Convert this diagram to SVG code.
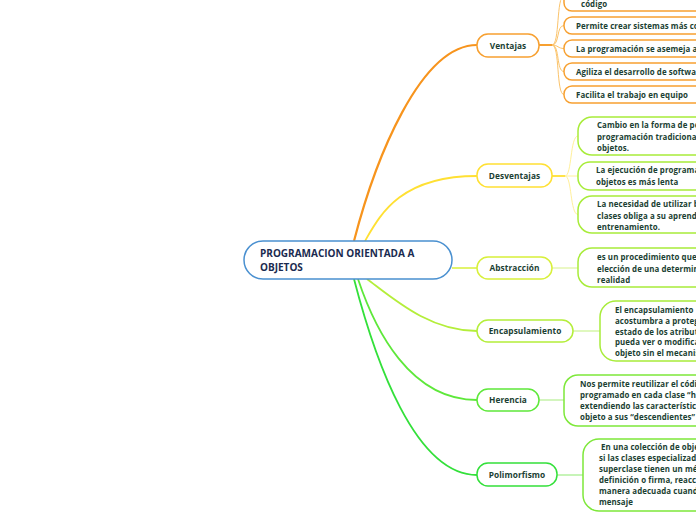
<svg xmlns="http://www.w3.org/2000/svg" width="696" height="520" viewBox="0 0 696 520">
<style>
text{font-family:"Open Sans","Noto Sans","Liberation Sans",sans-serif;font-weight:700;fill:#1b3f33;font-size:7.9px;letter-spacing:0.08px}
.t{font-size:8.3px}
.main{font-size:10px;font-weight:700;fill:#1a2b50;letter-spacing:0}
.n{fill:#fff;stroke-width:1.5}
.c{fill:none}
</style>
<rect width="696" height="520" fill="#fff"/>
<g id="connectors">
<path class="c" d="M354,241 C375,160 420,45 477,45" stroke="#f7941d" stroke-width="2.2"/>
<path class="c" d="M365,241 C380,215 400,176 477,176" stroke="#ffe033" stroke-width="1.8"/>
<path class="c" d="M452,268 L477,268" stroke="#d8f03a" stroke-width="1.5"/>
<path class="c" d="M367,279 C395,300 430,331 477,331" stroke="#b4ee3a" stroke-width="1.8"/>
<path class="c" d="M358,279 C375,330 410,400 477,400" stroke="#5ee83a" stroke-width="1.8"/>
<path class="c" d="M354,279 C375,360 415,475 477,475" stroke="#33e03a" stroke-width="1.8"/>
<g stroke="#fbc36a" stroke-width="1" fill="none">
<path d="M539,45 L552,45" stroke="#f7a030" stroke-width="2"/>
<path d="M552,45 C560,45 556,-4 564,-4"/>
<path d="M552,45 C560,45 556,25.5 564,25.5"/>
<path d="M552,45 C558,45 558,48.5 564,48.5"/>
<path d="M552,45 C560,45 556,71.5 564,71.5"/>
<path d="M552,45 C560,45 556,94.5 564,94.5"/>
</g>
<g stroke="#fff09a" stroke-width="1" fill="none">
<path d="M552,176 L565,176" stroke="#ffe033" stroke-width="1.8"/>
<path d="M565,176 C572,176 570,136 578,136"/>
<path d="M565,176 L578,176"/>
<path d="M565,176 C572,176 570,214.5 578,214.5"/>
</g>
<path class="c" d="M552,268 L578,268" stroke="#e4f6b0" stroke-width="1.5"/>
<path class="c" d="M573,331 L600,331" stroke="#d4f6a8" stroke-width="1.5"/>
<path class="c" d="M539,400 L564,400" stroke="#c4f2a8" stroke-width="1.5"/>
<path class="c" d="M557,475 L583,475" stroke="#b4f0a0" stroke-width="1.5"/>
</g>
<g id="root">
<rect class="n" x="244" y="241" width="208" height="38" rx="19" stroke="#4a90d0"/>
<text class="main" x="260" y="257">PROGRAMACION ORIENTADA A</text>
<text class="main" x="260" y="271">OBJETOS</text>
</g>
<g id="ventajas">
<rect class="n" x="477" y="34" width="62" height="23" rx="11" stroke="#f7a030"/>
<text class="t" x="508" y="48.5" text-anchor="middle">Ventajas</text>
</g>
<g id="v1"><rect class="n" x="564" y="-20" width="160" height="31" rx="8" stroke="#f7a030"/>
<text x="581" y="6.5">código</text></g>
<g id="v2"><rect class="n" x="564" y="17" width="160" height="17" rx="8" stroke="#f7a030"/>
<text x="576" y="28.5">Permite crear sistemas más co</text></g>
<g id="v3"><rect class="n" x="564" y="40" width="160" height="17" rx="8" stroke="#f7a030"/>
<text x="576" y="51.5">La programación se asemeja a</text></g>
<g id="v4"><rect class="n" x="564" y="63" width="160" height="17" rx="8" stroke="#f7a030"/>
<text x="576" y="74.5">Agiliza el desarrollo de softwa</text></g>
<g id="v5"><rect class="n" x="564" y="86" width="160" height="17" rx="8" stroke="#f7a030"/>
<text x="576" y="97.5">Facilita el trabajo en equipo</text></g>
<g id="desventajas">
<rect class="n" x="477" y="164" width="75" height="23" rx="11" stroke="#ffe033"/>
<text class="t" x="514.5" y="178.5" text-anchor="middle">Desventajas</text>
</g>
<g id="d1"><rect class="n" x="578" y="117" width="160" height="38" rx="14" stroke="#a8ec3a"/>
<text x="597" y="128">Cambio en la forma de pe</text><text x="597" y="139.5">programación tradiciona</text><text x="597" y="151">objetos.</text></g>
<g id="d2"><rect class="n" x="578" y="162" width="160" height="28" rx="12" stroke="#a8ec3a"/>
<text x="596" y="173">La ejecución de programa</text><text x="596" y="184.5">objetos es más lenta</text></g>
<g id="d3"><rect class="n" x="578" y="196" width="160" height="37" rx="14" stroke="#a8ec3a"/>
<text x="597" y="207">La necesidad de utilizar b</text><text x="597" y="218.5">clases obliga a su aprend</text><text x="597" y="230">entrenamiento.</text></g>
<g id="abstraccion">
<rect class="n" x="477" y="257" width="75" height="22" rx="11" stroke="#d8f03a"/>
<text class="t" x="514.5" y="271" text-anchor="middle">Abstracción</text>
</g>
<g id="a1"><rect class="n" x="578" y="248" width="160" height="39" rx="14" stroke="#a8ec3a"/>
<text x="597" y="260">es un procedimiento que</text><text x="597" y="271.5">elección de una determin</text><text x="597" y="283">realidad</text></g>
<g id="encapsulamiento">
<rect class="n" x="477" y="320" width="96" height="22" rx="11" stroke="#b4ee3a"/>
<text class="t" x="525" y="334" text-anchor="middle">Encapsulamiento</text>
</g>
<g id="e1"><rect class="n" x="600" y="301" width="140" height="60" rx="16" stroke="#a8ec3a"/>
<text x="615" y="313">El encapsulamiento</text><text x="615" y="324">acostumbra a proteg</text><text x="615" y="334.5">estado de los atribut</text><text x="615" y="345">pueda ver o modifica</text><text x="615" y="356">objeto sin el mecanis</text></g>
<g id="herencia">
<rect class="n" x="477" y="389" width="62" height="22" rx="11" stroke="#5ee83a"/>
<text class="t" x="508" y="403" text-anchor="middle">Herencia</text>
</g>
<g id="h1"><rect class="n" x="564" y="375" width="170" height="51" rx="14" stroke="#7ee83a"/>
<text x="580" y="387">Nos permite reutilizar el códi</text><text x="580" y="398">programado en cada clase “h</text><text x="580" y="409">extendiendo las característica</text><text x="580" y="420">objeto a sus “descendientes”</text></g>
<g id="polimorfismo">
<rect class="n" x="477" y="463" width="80" height="23" rx="11" stroke="#33e03a"/>
<text class="t" x="517" y="477.5" text-anchor="middle">Polimorfismo</text>
</g>
<g id="p1"><rect class="n" x="583" y="439" width="160" height="72" rx="16" stroke="#7ee83a"/>
<text x="601" y="450">En una colección de obje</text><text x="599" y="461">si las clases especializada</text><text x="599" y="472">superclase tienen un mé</text><text x="599" y="483">definición o firma, reacci</text><text x="599" y="494">manera adecuada cuand</text><text x="599" y="505">mensaje</text></g>
</svg>
